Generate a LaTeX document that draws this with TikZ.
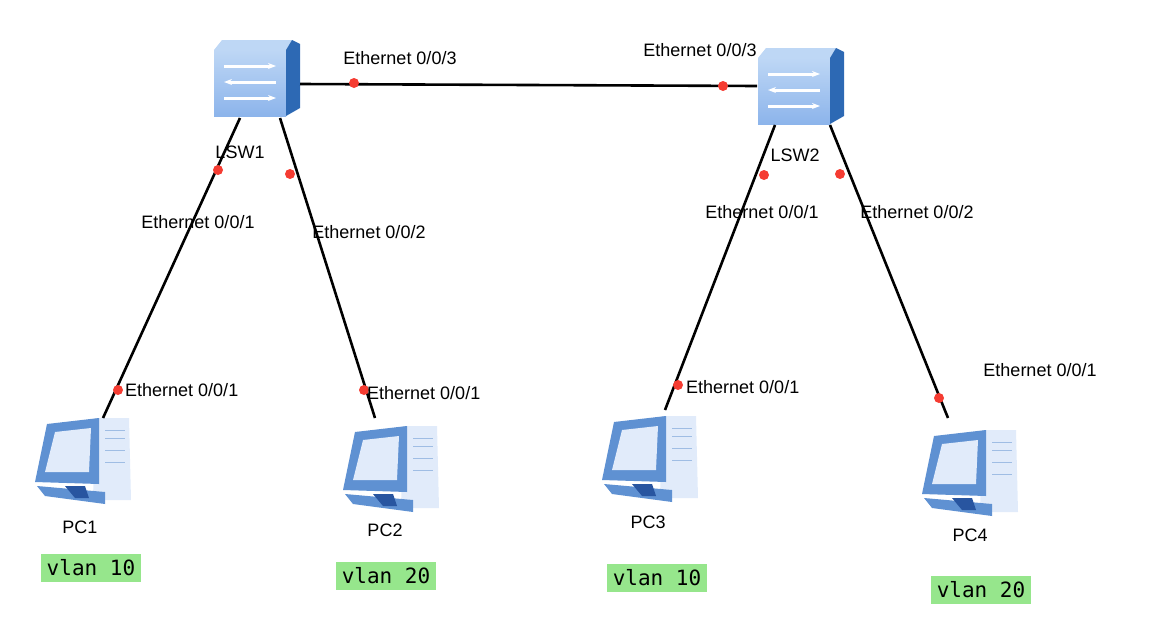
\documentclass[tikz,border=0pt]{standalone}
\usepackage{fontspec}
\setmainfont{Liberation Sans}
\setmonofont{DejaVu Sans Mono}
\usetikzlibrary{arrows.meta}
\definecolor{swl}{RGB}{190,215,245}
\definecolor{swd}{RGB}{140,180,235}
\definecolor{swside}{RGB}{45,105,180}
\definecolor{pcb}{RGB}{95,145,210}
\definecolor{pcd}{RGB}{40,85,160}
\definecolor{pcl}{RGB}{225,235,250}
\definecolor{vlg}{RGB}{150,230,140}
\definecolor{dotr}{RGB}{245,60,50}
\begin{document}
\begin{tikzpicture}[x=1pt,y=-1pt,
  lbl/.style={font=\fontsize{18}{20}\selectfont},
  vl/.style={fill=vlg,font=\ttfamily\fontsize{21}{23}\selectfont,inner xsep=6pt,inner ysep=6pt},
  link/.style={line width=2.6pt},
  dot/.style={circle,fill=dotr,inner sep=0pt,minimum size=10pt},
  sw/.pic={
    \fill[swl] (-36,-30) -- (-28,-40) -- (42,-40) -- (36,-30) -- cycle;
    \fill[top color=swl,bottom color=swd] (-36,-30) rectangle (36,36);
    \fill[swside] (36,-30) -- (42,-40) -- (50,-36) -- (50,28) -- (36,36) -- cycle;
    \foreach \yy/\d in {-14/1,2/-1,18/1}{
      \draw[white,line width=3pt,-{Stealth[length=8pt]}] (-\d*26,\yy) -- (\d*26,\yy);}
  },
  pc/.pic={
    \fill[pcl] (10,-40) -- (44,-40) -- (46,42) -- (8,42) -- cycle;
    \foreach \yy in {-28,-20,-8,4}{\draw[pcb!60,line width=1pt] (20,\yy) -- (40,\yy);}
    \fill[pcb] (-48,28) -- (-40,38) -- (20,46) -- (20,34) -- cycle;
    \fill[pcd] (-20,28) -- (-10,40) -- (4,40) -- (0,28) -- cycle;
    \fill[pcb] (-38,-34) -- (14,-40) -- (14,26) -- (-50,24) -- cycle;
    \fill[pcl] (-30,-26) -- (6,-30) -- (4,14) -- (-40,14) -- cycle;
  }]
\useasboundingbox (0,0) rectangle (1158,624);
\pic at (250,80) {sw};
\pic at (794,88) {sw};
\node[lbl] (l1) at (240,152) {LSW1};
\node[lbl] (l2) at (795,155) {LSW2};
\coordinate (s1a) at (240,118); \coordinate (s1b) at (280,118); \coordinate (s1c) at (300,84);
\coordinate (s2a) at (775,125); \coordinate (s2b) at (830,125); \coordinate (s2c) at (757,86);
\pic at (85,458) {pc};
\pic at (393,466) {pc};
\pic at (652,456) {pc};
\pic at (972,470) {pc};
\coordinate (p1) at (103,418); \coordinate (p2) at (375,418);
\coordinate (p3) at (665,410); \coordinate (p4) at (948,418);
\node[lbl] at (80,527) {PC1};
\node[lbl] at (385,530) {PC2};
\node[lbl] at (648,522) {PC3};
\node[lbl] at (970,535) {PC4};
\node[vl] at (91,568) {vlan 10};
\node[vl] at (386,576) {vlan 20};
\node[vl] at (657,578) {vlan 10};
\node[vl] at (981,590) {vlan 20};
\draw[link] (s1c) -- (s2c);
\draw[link] (s1a) -- (p1);
\draw[link] (s1b) -- (p2);
\draw[link] (s2a) -- (p3);
\draw[link] (s2b) -- (p4);
\foreach \p in {(354,83),(723,86),(218,170),(118,390),(290,174),(364,390),(764,175),(678,385),(840,174),(939,398)}
  \node[dot] at \p {};
\node[lbl] at (400,58) {Ethernet 0/0/3};
\node[lbl] at (700,50) {Ethernet 0/0/3};
\node[lbl] at (198,222) {Ethernet 0/0/1};
\node[lbl] at (369,232) {Ethernet 0/0/2};
\node[lbl,anchor=west,inner xsep=0pt] at (125,390) {Ethernet 0/0/1};
\node[lbl,anchor=west,inner xsep=0pt] at (367,393) {Ethernet 0/0/1};
\node[lbl,anchor=west,inner xsep=0pt] at (686,387) {Ethernet 0/0/1};
\node[lbl] at (1040,370) {Ethernet 0/0/1};
\node[lbl] at (762,212) {Ethernet 0/0/1};
\node[lbl] at (917,212) {Ethernet 0/0/2};
\end{tikzpicture}
\end{document}
